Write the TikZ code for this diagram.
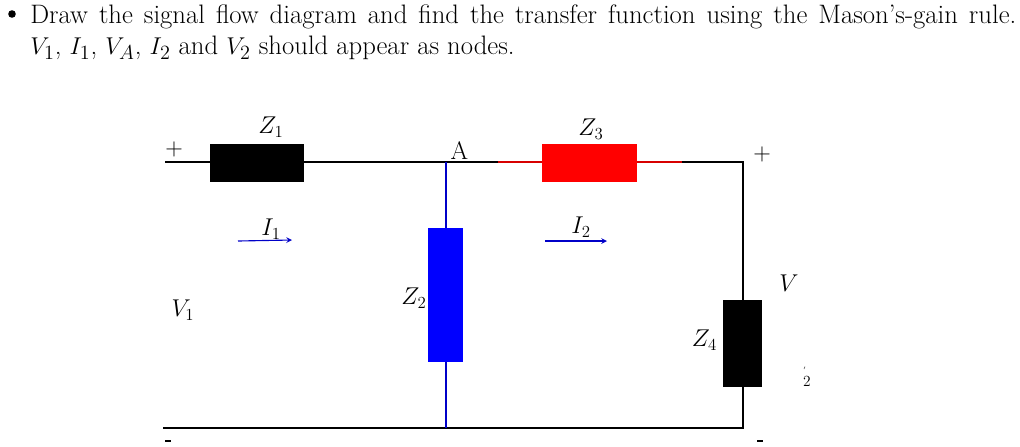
\documentclass[tikz,border=0pt]{standalone}
\usepackage{amsmath}
\usepackage{tikz}
\usetikzlibrary{backgrounds}
\usepackage{xcolor}
\definecolor{zblue}{RGB}{0,0,255}
\definecolor{wireblue}{RGB}{0,0,200}
\definecolor{zred}{RGB}{255,0,0}
\definecolor{wirered}{RGB}{215,0,0}
\tikzstyle{wire} = [line width=1.42pt,color=black]
\tikzstyle{currarrow} = [line width=0.8pt,->,>=stealth,color=wireblue]
\tikzstyle{zbox} = [rectangle, inner sep=0pt, draw=none, fill=black]
\tikzstyle{lbl} = [inner sep=0pt, font=\fontsize{18}{20}\selectfont]
\tikzstyle{head} = [inner sep=0pt, anchor=base west, font=\fontsize{19}{22}\selectfont]

\begin{document}
\begin{tikzpicture}[x=0.25mm,y=0.25mm]
\useasboundingbox (0,0) rectangle (1020,-446);

% Question text
\node[circle, fill=black, inner sep=0pt, minimum size=0.19cm] (bullet) at (12,-14) {};
\node[head] (line1) at (30,-23) {\makebox[24.65cm][s]{Draw the signal flow diagram and find the transfer function using the Mason's-gain rule.}};
\node[head] (line2) at (30,-54.5) {$V_1$, $I_1$, $V_A$, $I_2$ and $V_2$ should appear as nodes.};

% Impedances
\node[zbox, minimum width=2.37cm, minimum height=0.95cm] (Zone) at (257,-163) {};
\node[zbox, fill=zred, minimum width=2.37cm, minimum height=0.95cm] (Zthree) at (589.5,-163) {};
\node[zbox, fill=zblue, minimum width=0.87cm, minimum height=3.35cm] (Ztwo) at (445.5,-295) {};
\node[zbox, minimum width=0.97cm, minimum height=2.17cm] (Zfour) at (742.5,-343.5) {};

% Wire ends
\coordinate (inL) at (165,-162);
\coordinate (nodeA) at (446,-162);
\coordinate (redL) at (498,-162);
\coordinate (redR) at (682,-162);
\coordinate (topR) at (743,-162);
\coordinate (botL) at (163,-428);
\coordinate (botA) at (446,-428);
\coordinate (botR) at (743,-428);

% Wires
\begin{scope}[on background layer]
\draw[wire] (inL) -- (Zone.center |- inL) -- (redL);
\draw[wire, color=wirered] (redL) -- (Zthree.center |- redL) -- (redR);
\draw[wire, line join=miter] (redR) -- (topR) -- (topR |- Zfour.center);
\draw[wire, line join=miter] (topR |- Zfour.center) -- (botR) -- (botL);
\draw[wire, color=wireblue] (nodeA) -- (nodeA |- Ztwo.center);
\draw[wire, color=wireblue] (nodeA |- Ztwo.center) -- (botA);
\end{scope}

% Currents
\coordinate (ionestart) at (238,-241);
\coordinate (ioneend) at (292,-240);
\coordinate (itwostart) at (545,-241);
\coordinate (itwoend) at (607,-241);
\draw[currarrow] (ionestart) -- (ioneend);
\draw[currarrow] (itwostart) -- (itwoend);

% Labels
\node[lbl] (lZone) at (271,-127) {$Z_1$};
\node[lbl] (lZtwo) at (414,-298) {$Z_2$};
\node[lbl] (lZthree) at (591,-129) {$Z_3$};
\node[lbl] (lZfour) at (704.5,-340) {$Z_4$};
\node[lbl] (lA) at (459.5,-151) {A};
\node[lbl] (lIone) at (271,-229) {$I_1$};
\node[lbl] (lItwo) at (581,-227) {$I_2$};
\node[lbl] (lVone) at (183,-310) {$V_1$};
\node[lbl] (lV) at (789,-283) {$V$};
\node[inner sep=0pt, font=\fontsize{11}{13}\selectfont] (ltwo) at (807,-381) {2};
\node[inner sep=0pt, font=\fontsize{16}{18}\selectfont] (plusL) at (174,-149) {$+$};
\node[inner sep=0pt, font=\fontsize{16}{18}\selectfont] (plusR) at (762,-154) {$+$};
\node[fill=black, inner sep=0pt, minimum width=0.16cm, minimum height=0.035cm] (minusL) at (168,-441) {};
\node[fill=black, inner sep=0pt, minimum width=0.16cm, minimum height=0.035cm] (minusR) at (760,-441) {};

% Stray tick
\coordinate (ticktop) at (805,-366.5);
\coordinate (tickbot) at (804,-369);
\draw[line width=0.4pt, color=black!70] (ticktop) -- (tickbot);
\end{tikzpicture}
\end{document}
